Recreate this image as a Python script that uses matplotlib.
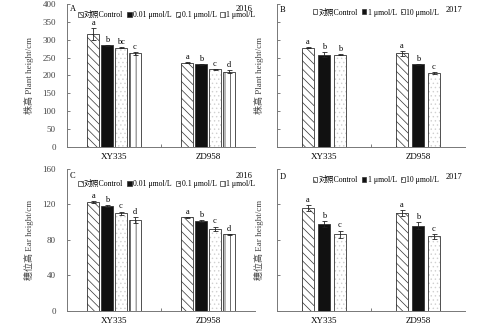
import matplotlib.pyplot as plt
from matplotlib.patches import Patch
import numpy as np

plt.rcParams['font.family'] = ['Liberation Serif', 'Noto Sans CJK SC']
plt.rcParams['hatch.linewidth'] = 0.5

cultivars = ['XY335', 'ZD958']

# 2016 treatments
labels_2016 = ['对照Control', '0.01 μmol/L', '0.1 μmol/L', '1 μmol/L']
plant_2016 = [[315, 284, 277, 262], [236, 231, 217, 211]]
plant_2016_err = [[17, 2, 1.5, 4], [1.5, 1.5, 1, 3]]
plant_2016_sig = [['a', 'b', 'bc', 'c'], ['a', 'b', 'c', 'd']]
ear_2016 = [[122.5, 118.5, 110, 102.5], [105.5, 101, 92.5, 86.5]]
ear_2016_err = [[1, 1, 2, 3], [0.5, 1, 2.5, 0.5]]
ear_2016_sig = [['a', 'b', 'c', 'd'], ['a', 'b', 'c', 'd']]

# 2017 treatments
labels_2017 = ['对照Control', '1 μmol/L', '10 μmol/L']
plant_2017 = [[277, 258, 258], [262, 231, 207]]
plant_2017_err = [[1.5, 7, 1.5], [7, 0.5, 1.5]]
plant_2017_sig = [['a', 'b', 'b'], ['a', 'b', 'c']]
ear_2017 = [[116, 98, 86.5], [110.5, 96, 84]]
ear_2017_err = [[3, 3, 4], [3, 4, 3]]
ear_2017_sig = [['a', 'b', 'c'], ['a', 'b', 'c']]

styles = [
    dict(face='white', hatch='\\\\\\\\', hcol='#333333'),
    dict(face='#111111', hatch=None, hcol=None),
    dict(face='white', hatch='....', hcol='#d0d0d0'),
    dict(face='white', hatch='|||', hcol='#333333'),
]
edge = '#333333'


def draw_panel(ax, vals, errs, sigs, labels, ymax, yticks, show_ylabels,
               ylabel, letter, year, width, step, leg_x, leg_y, letter_y):
    n = len(labels)
    x = np.arange(len(cultivars))
    for i in range(n):
        pos = x + (i - (n - 1) / 2) * step
        h = [v[i] for v in vals]
        e = [v[i] for v in errs]
        st = styles[i]
        if st['hatch']:
            ax.bar(pos, h, width, color=st['face'], hatch=st['hatch'],
                   edgecolor=st['hcol'], linewidth=0, zorder=2)
            ax.bar(pos, h, width, color='none', edgecolor=edge, linewidth=0.6, zorder=3)
        else:
            ax.bar(pos, h, width, color=st['face'], edgecolor=edge, linewidth=0.6, zorder=3)
        ax.errorbar(pos, h, yerr=e, fmt='none', ecolor='#222222', elinewidth=0.6,
                    capsize=1.8, capthick=0.6, zorder=4)
        for p, hh, ee, s in zip(pos, h, e, [v[i] for v in sigs]):
            ax.text(p, hh + ee + ymax * 0.008, s, ha='center', va='bottom', fontsize=6)

    handles = []
    for i in range(n):
        st = styles[i]
        handles.append(Patch(facecolor=st['face'], edgecolor=edge, linewidth=0.5,
                             hatch=st['hatch']))
    ax.legend(handles, labels, loc='center left', bbox_to_anchor=(leg_x, leg_y),
              ncol=n, frameon=False, fontsize=5.6, handlelength=0.55, handleheight=0.55,
              handletextpad=0.2, columnspacing=0.5, borderpad=0, borderaxespad=0)
    ax.text(0.015, letter_y, letter, transform=ax.transAxes, fontsize=6, va='center')
    ax.text(0.985, letter_y, year, transform=ax.transAxes, fontsize=6, va='center', ha='right')

    ax.set_xlim(-0.5, 1.5)
    ax.set_ylim(0, ymax)
    ax.set_yticks(yticks)
    if not show_ylabels:
        ax.set_yticklabels([])
    ax.set_xticks([0, 1])
    ax.set_xticklabels(cultivars)
    ax.set_xticks([0.5], minor=True)
    ax.tick_params(axis='x', which='major', length=0, labelsize=6.5, pad=4)
    ax.tick_params(axis='x', which='minor', length=2, direction='in', width=0.6, color='#666666')
    ax.tick_params(axis='y', length=2, direction='in', width=0.6, color='#666666',
                   labelsize=6.5, labelcolor='#444444', pad=8)
    for side in ['top', 'right']:
        ax.spines[side].set_visible(False)
    for side in ['left', 'bottom']:
        ax.spines[side].set_color('#777777')
        ax.spines[side].set_linewidth(0.7)
    ax.set_ylabel(ylabel, fontsize=6.5, color='#444444', labelpad=6 if show_ylabels else 1)


fig = plt.figure(figsize=(5, 3.26), dpi=100)
axA = fig.add_axes([0.134, 0.549, 0.376, 0.439])
axB = fig.add_axes([0.554, 0.549, 0.376, 0.439])
axC = fig.add_axes([0.134, 0.046, 0.376, 0.436])
axD = fig.add_axes([0.554, 0.046, 0.376, 0.436])

draw_panel(axA, plant_2016, plant_2016_err, plant_2016_sig, labels_2016, 400,
           np.arange(0, 401, 50), True, '株高 Plant height/cm', 'A', '2016',
           0.124, 0.147, 0.06, 0.92, 0.965)
draw_panel(axB, plant_2017, plant_2017_err, plant_2017_sig, labels_2017, 400,
           np.arange(0, 401, 50), False, '株高 Plant height/cm', 'B', '2017',
           0.135, 0.17, 0.19, 0.94, 0.96)
draw_panel(axC, ear_2016, ear_2016_err, ear_2016_sig, labels_2016, 160,
           np.arange(0, 161, 40), True, '穗位高 Ear height/cm', 'C', '2016',
           0.124, 0.147, 0.06, 0.894, 0.95)
draw_panel(axD, ear_2017, ear_2017_err, ear_2017_sig, labels_2017, 160,
           np.arange(0, 161, 40), False, '穗位高 Ear height/cm', 'D', '2017',
           0.135, 0.17, 0.19, 0.92, 0.94)

fig.savefig('out.png', dpi=100)
